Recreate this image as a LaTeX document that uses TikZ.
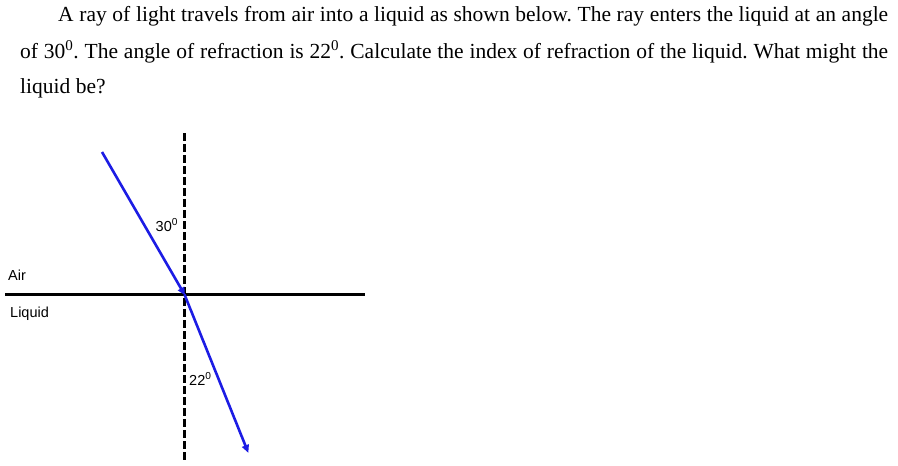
\documentclass[tikz,border=0pt]{standalone}
\usepackage{fontspec}
\setmainfont{Liberation Serif}
\newfontfamily\labelfont{Liberation Sans}
\usetikzlibrary{arrows.meta}
\definecolor{raycol}{RGB}{28,28,228}
\frenchspacing
\tikzset{
  textline/.style={anchor=base west, inner sep=0pt, font=\fontsize{21.5}{25}\selectfont},
  lbl/.style={anchor=base west, inner sep=0pt, font=\labelfont\fontsize{14.5}{17}\selectfont},
  ray/.style={draw=raycol, line width=2.6pt, -{Triangle[length=8pt,width=7pt]}, shorten >=-1pt},
  normal/.style={draw=black, line width=2.6pt, dash pattern=on 7.5pt off 3.5pt},
  surface/.style={draw=black, line width=2.2pt},
}
\begin{document}
\begin{tikzpicture}[x=1pt,y=-1pt]
\useasboundingbox (0,0) rectangle (898,466);
\node[textline] (l1) at (58,21.5) {\makebox[830pt][s]{A ray of light travels from air into a liquid as shown below. The ray enters the liquid at an angle}};
\node[textline] (l2) at (20,58) {\makebox[868pt][s]{of 30\textsuperscript{0}. The angle of refraction is 22\textsuperscript{0}. Calculate the index of refraction of the liquid. What might the}};
\node[textline] (l3) at (20,93.5) {liquid be?};
\coordinate (ntop) at (184.5,133);
\coordinate (nbot) at (184.5,463);
\coordinate (sl) at (5,294.5);
\coordinate (sr) at (365,294.5);
\coordinate (s) at (102,152);
\coordinate (o) at (184.5,294.5);
\coordinate (e) at (248,452);
\draw[normal] (ntop) -- (nbot);
\draw[surface] (sl) -- (sr);
\draw[ray] (s) -- (o);
\draw[ray] (o) -- (e);
\node[lbl] (air) at (8,280) {Air};
\node[lbl] (liq) at (10,317) {Liquid};
\node[lbl] (a1) at (155.5,231) {30\textsuperscript{0}};
\node[lbl] (a2) at (189,385) {22\textsuperscript{0}};
\end{tikzpicture}
\end{document}
